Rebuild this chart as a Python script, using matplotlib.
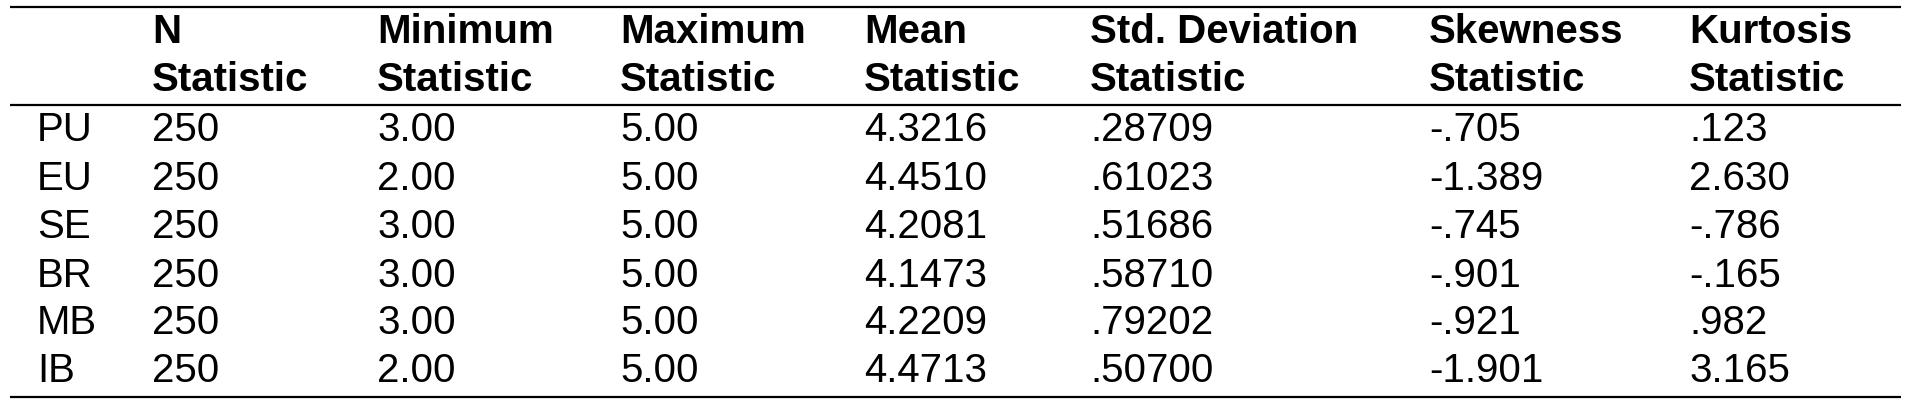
import matplotlib
matplotlib.use("Agg")
import matplotlib.pyplot as plt

rows = ["PU", "EU", "SE", "BR", "MB", "IB"]
headers = [("N", "Statistic"), ("Minimum", "Statistic"), ("Maximum", "Statistic"),
           ("Mean", "Statistic"), ("Std. Deviation", "Statistic"),
           ("Skewness", "Statistic"), ("Kurtosis", "Statistic")]
n_vals = ["250"] * 6
min_vals = ["3.00", "2.00", "3.00", "3.00", "3.00", "2.00"]
max_vals = ["5.00"] * 6
mean_vals = ["4.3216", "4.4510", "4.2081", "4.1473", "4.2209", "4.4713"]
std_vals = [".28709", ".61023", ".51686", ".58710", ".79202", ".50700"]
skew_vals = ["-.705", "-1.389", "-.745", "-.901", "-.921", "-1.901"]
kurt_vals = [".123", "2.630", "-.786", "-.165", ".982", "3.165"]
cols = [n_vals, min_vals, max_vals, mean_vals, std_vals, skew_vals, kurt_vals]

W, H = 1923, 401
fig = plt.figure(figsize=(W/100, H/100), dpi=100)
ax = fig.add_axes([0, 0, 1, 1])
ax.set_xlim(0, W); ax.set_ylim(H, 0); ax.axis("off")
plt.rcParams['font.family'] = ['Liberation Sans', 'DejaVu Sans']
fs = 29
col_x = [152, 377, 620, 864, 1090, 1429, 1689]
row_label_x = 37
row_y = [130, 179, 227, 276, 323, 371]

for y, lw in [(7, 1.6), (105, 1.6), (397, 1.6)]:
    ax.plot([10, 1901], [y, y], color="black", lw=lw, solid_capstyle="butt")

for x, (h1, h2) in zip(col_x, headers):
    ax.text(x, 32, h1, fontsize=fs, fontweight="bold", va="center", ha="left")
    ax.text(x, 80, h2, fontsize=fs, fontweight="bold", va="center", ha="left")

for i, r in enumerate(rows):
    ax.text(row_label_x, row_y[i], r, fontsize=fs, va="center", ha="left")
    for x, c in zip(col_x, cols):
        ax.text(x, row_y[i], c[i], fontsize=fs, va="center", ha="left")

fig.savefig("out.png", dpi=100)
